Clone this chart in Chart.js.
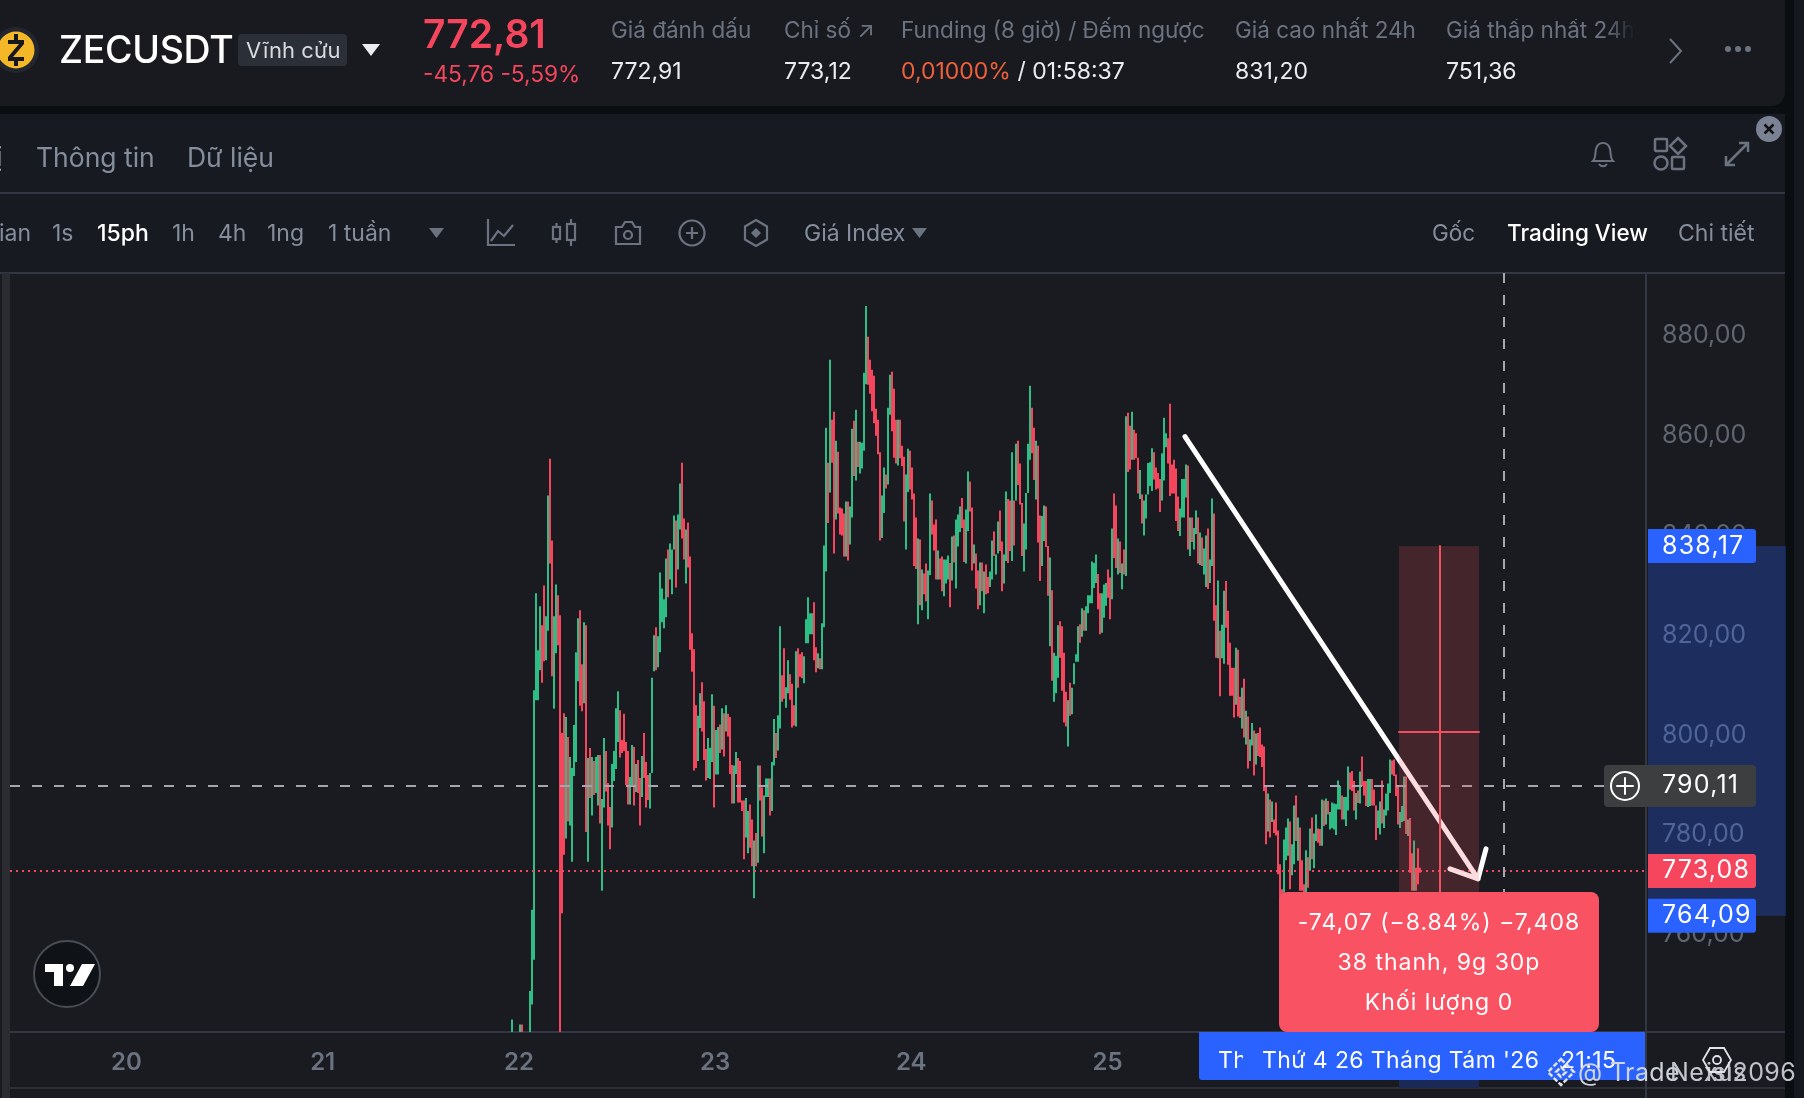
<!DOCTYPE html>
<html lang="vi">
<head>
<meta charset="utf-8">
<title>ZECUSDT</title>
<script src="https://cdn.jsdelivr.net/npm/chart.js@4"></script>
<style>
html, body { margin: 0; padding: 0; background: #0b0e11; }
#page { position: relative; width: 1804px; height: 1098px; overflow: hidden; font-family: Inter, "Noto Sans", sans-serif; }
#page div.box { position: absolute; }
canvas#chart { position: absolute; left: 0; top: 0; }
.t { position: absolute; transform: translateY(-50%); white-space: nowrap; font-size: 22.5px; color: #848e9c; line-height: 1; }
.v { color: #eaecef; font-size: 23px; }
.w { color: #fff; }
svg { position: absolute; overflow: visible; }
</style>
</head>
<body>
<div id="page">
  <div class="box" style="left:0;top:0;width:1785px;height:106px;background:#181a20;border-bottom-right-radius:14px"></div>
  <div class="box" style="left:0;top:114px;width:1785px;height:984px;background:#1a1b20"></div>
  <div class="box" style="left:0;top:114px;width:1785px;height:159px;background:#181a21"></div>
  <div class="box" style="left:0;top:192px;width:1785px;height:2px;background:#333743"></div>
  <div class="box" style="left:0;top:272px;width:1785px;height:2px;background:#333743"></div>
  <div class="box" style="left:1794px;top:0;width:10px;height:1098px;background:#15181e"></div>
  <div class="box" style="left:2px;top:273px;width:8px;height:825px;background:#2a2c32"></div>
  <div class="box" style="left:10px;top:1031px;width:1775px;height:2px;background:#333743"></div>
  <div class="box" style="left:10px;top:1087px;width:1775px;height:2px;background:#2c2f38"></div>
  <div class="box" style="left:1645px;top:273px;width:2px;height:825px;background:#333743"></div>
  <canvas id="chart" width="1804" height="1098"></canvas>

  <svg style="left:0;top:0" width="60" height="100">
    <circle cx="16" cy="50" r="23" fill="#23262e"/>
    <circle cx="16" cy="50" r="18.5" fill="#f4b728"/>
    <path d="M8 40h16v4l-11 13h11v4H8v-4l11-13H8z M14 34h4v6h-4z M14 60h4v6h-4z" fill="#16181e"/>
  </svg>
  <span class="t w" style="left:59px;top:50px;font-size:37.5px;font-weight:500;letter-spacing:-.3px">ZECUSDT</span>
  <div class="box" style="left:238px;top:34px;width:109px;height:32px;background:#2b2f38;border-radius:4px"></div>
  <span class="t" style="left:246px;top:50px;color:#d9dbdf;font-size:22px">Vĩnh cửu</span>
  <svg style="left:362px;top:44px" width="18" height="12"><path d="M0 0h18L9 12z" fill="#eaecef"/></svg>
  <span class="t" style="left:423px;top:33px;font-size:39px;font-weight:600;color:#f6465d">772,81</span>
  <span class="t" style="left:423px;top:74px;font-size:22.7px;color:#f6465d">-45,76 -5,59%</span>

  <span class="t" style="left:611px;top:30px;color:#6c7380">Giá đánh dấu</span>
  <span class="t v" style="left:611px;top:71px">772,91</span>
  <span class="t" style="left:784px;top:30px;color:#6c7380">Chỉ số ↗</span>
  <span class="t v" style="left:784px;top:71px">773,12</span>
  <span class="t" style="left:901px;top:30px;color:#6c7380">Funding (8 giờ) / Đếm ngược</span>
  <span class="t v" style="left:901px;top:71px"><span style="color:#f0603a">0,01000%</span> / 01:58:37</span>
  <span class="t" style="left:1235px;top:30px;color:#6c7380">Giá cao nhất 24h</span>
  <span class="t v" style="left:1235px;top:71px">831,20</span>
  <span class="t" style="left:1446px;top:30px;color:#6c7380;-webkit-mask-image:linear-gradient(90deg,#000 85%,transparent)">Giá thấp nhất 24h</span>
  <span class="t v" style="left:1446px;top:71px">751,36</span>
  <svg style="left:1669px;top:38px" width="14" height="26"><path d="M1 1l11 12L1 25" fill="none" stroke="#6c7380" stroke-width="2"/></svg>
  <svg style="left:1725px;top:45px" width="26" height="8"><circle cx="3" cy="4" r="3" fill="#6c7380"/><circle cx="13" cy="4" r="3" fill="#6c7380"/><circle cx="23" cy="4" r="3" fill="#6c7380"/></svg>

  <span class="t" style="left:-4px;top:157px;font-size:26px;color:#eaecef">ị</span>
  <span class="t" style="left:36px;top:157px;font-size:26.5px">Thông tin</span>
  <span class="t" style="left:187px;top:157px;font-size:26.5px">Dữ liệu</span>
  <svg style="left:1590px;top:140px" width="26" height="28" fill="none" stroke="#6c7380" stroke-width="2"><path d="M3 21c3-3 2-8 3-12 2-8 12-8 14 0 1 4 0 9 3 12z M9 24c2 3 6 3 8 0"/></svg>
  <svg style="left:1654px;top:137px" width="34" height="34" fill="none" stroke="#6c7380" stroke-width="2.5"><rect x="1" y="2" width="12" height="12" rx="1"/><path d="M24 1l8 8-8 8-8-8z"/><circle cx="7" cy="26" r="6.5"/><rect x="18" y="20" width="12" height="12" rx="1"/></svg>
  <svg style="left:1724px;top:141px" width="26" height="26" fill="none" stroke="#6c7380" stroke-width="2.5"><path d="M2 24L24 2 M15 2h9v9 M2 15v9h9"/></svg>
  <svg style="left:1755px;top:115px" width="28" height="28"><circle cx="14" cy="14" r="13" fill="#7a8294"/><path d="M9.500 9.500l9 9m0-9l-9 9" stroke="#111" stroke-width="2.500"/></svg>

  <span class="t" style="left:-1px;top:233px;font-size:23px">ian</span>
  <span class="t" style="left:52px;top:233px;font-size:23px">1s</span>
  <span class="t w" style="left:97px;top:233px;font-weight:500;font-size:23px">15ph</span>
  <span class="t" style="left:172px;top:233px;font-size:23px">1h</span>
  <span class="t" style="left:218px;top:233px;font-size:23px">4h</span>
  <span class="t" style="left:267px;top:233px;font-size:23px">1ng</span>
  <span class="t" style="left:328px;top:233px;font-size:23px">1 tuần</span>
  <svg style="left:429px;top:228px" width="15" height="10"><path d="M0 0h15L7.500 10z" fill="#6c7380"/></svg>
  <svg style="left:486px;top:219px" width="30" height="28" fill="none" stroke="#6c7380" stroke-width="2.200"><path d="M2 0v26h27 M5 22l7-10 6 5 9-11"/></svg>
  <svg style="left:551px;top:219px" width="26" height="28" fill="none" stroke="#6c7380" stroke-width="2.200"><rect x="2" y="8" width="7" height="12"/><path d="M5.500 4v4m0 12v4"/><rect x="16" y="5" width="8" height="16"/><path d="M20 0v5m0 16v6"/></svg>
  <svg style="left:614px;top:220px" width="28" height="26" fill="none" stroke="#6c7380" stroke-width="2.200"><path d="M2 7h6l3-5h7l3 5h5v17H2z"/><circle cx="14" cy="15" r="4"/></svg>
  <svg style="left:678px;top:219px" width="28" height="28" fill="none" stroke="#6c7380" stroke-width="2.200"><circle cx="14" cy="14" r="12.500"/><path d="M14 8v12M8 14h12"/></svg>
  <svg style="left:743px;top:219px" width="26" height="28"><path d="M13 1l11 6.500v13L13 27 2 20.500v-13z" fill="none" stroke="#6c7380" stroke-width="2.200"/><path d="M13 9l5 5-5 5-5-5z" fill="#6c7380"/></svg>
  <span class="t" style="left:804px;top:233px;font-size:23px">Giá Index</span>
  <svg style="left:912px;top:228px" width="15" height="10"><path d="M0 0h15L7.500 10z" fill="#6c7380"/></svg>
  <span class="t" style="left:1432px;top:233px">Gốc</span>
  <span class="t w" style="left:1507px;top:233px;font-weight:500">Trading View</span>
  <span class="t" style="left:1678px;top:233px;font-size:23px">Chi tiết</span>

  <svg style="left:33px;top:940px" width="68" height="68">
    <circle cx="34" cy="34" r="33" fill="#0f1216" stroke="#4a4d55" stroke-width="2"/>
    <path d="M12 24h18v22H21V32h-9z M37 46l12-22h13L50 46z" fill="#fff"/>
    <circle cx="37" cy="28" r="4" fill="#fff"/>
  </svg>

  <svg style="left:1546px;top:1058px" width="30" height="30" fill="none" stroke="#dfe3ea" stroke-width="2.500" stroke-dasharray="5 2"><path d="M15 1l13 13-13 13L2 14z M15 9l5 5-5 5-5-5z"/></svg>
  <span class="t" style="left:1578px;top:1072px;font-size:25px;color:#cfd3da;letter-spacing:.4px">@ Trade</span>
  <span class="t" style="left:1670px;top:1072px;font-size:25px;color:#c4c7ce;letter-spacing:.4px">Nexus</span>
  <span class="t" style="left:1706px;top:1072px;font-size:25px;color:#bfc2c9;letter-spacing:.4px">isl2096</span>
  <svg style="left:1702px;top:1047px" width="30" height="30" fill="none" stroke="#dfe3ea" stroke-width="1.800"><path d="M8 1h14l7 12-7 12H8L1 13z"/><circle cx="15" cy="13" r="4"/></svg>
</div>

<script>
// 15 minute candles, one slot per candle starting at firstSlot
const firstSlot = 251;
const highs = [
  743,738,738,738,742,742,738,738,738,748.7,
  765,809,828.4,817,825.8,822,830,823.8,848,855.4,
  839,823.8,830.2,828,824,800.4,804.4,803.6,799.6,795.6,
  793.4,802,816.6,823.4,825,814.2,822.6,822,795.4,797.4,
  795.6,794.8,795.6,796,796,787.2,799.4,796.8,790.4,785.6,
  794.2,796.8,805.4,808.8,805,799,804.3,798.6,796.8,791.6,
  798,797.6,794.2,795,791.4,795.8,800.4,794.6,792,792.4,
  811.5,820,821.6,819.8,832.6,829.4,827.2,835.4,837.2,838.4,
  837.2,844,843,844.2,850.4,854.6,843.4,841.2,842.6,835.8,
  820.4,817.2,806,803.9,808.4,810.6,806.8,797.2,799.4,797.4,
  808.2,805.9,801,801.6,802.1,805.4,804.4,806,804.3,803.6,
  794,793.9,796.6,795.4,794.8,786.9,786.9,787.4,784.8,786.1,
  783.1,778.9,780.4,793.9,793.9,789.5,787.9,791.3,791.3,791.3,
  794.6,803.2,800.4,804,821.8,812,817.4,809.6,815,812.2,
  810.3,806,816.8,817.4,816.2,816.6,815.8,823.2,827.6,824.4,
  824.4,826.6,817.6,816.4,
  815.4,822.4,838,861.6,854.6,875.2,863.2,864.8,859,856.8,
  845.6,845.4,844.4,846.8,846.8,845.8,861.4,863,865.2,858.8,
  858.8,858.6,872.6,886,879.8,875.2,873.2,872,865.4,863.2,
  856.7,848,853.6,852.2,865.6,872.2,872.8,869.4,863.2,863.2,
  863.2,858,855.8,852.2,857.4,857,853.6,848.4,843.6,839.4,
  839.2,833.2,832.4,834.4,833,848.4,847,842.2,843.2,837,
  835.4,835.8,835.2,835.2,836,834.5,839.8,840,843.2,844.2,
  845.8,847.5,843.2,845.2,852.8,850.8,845.6,838.2,836.4,833,
  834.6,834.6,832.8,834.2,831.7,832.8,839,840.8,836.2,842.8,
  845,838.8,836.2,848.8,847.3,847,856.7,847,858.4,859,
  854.4,846.5,842.4,848.5,858.4,870,865.6,861.6,859,858,
  844,843.9,846,845.8,837.9,835.6,829,816.5,815.9,822,
  822.8,821.8,816.5,808.7,807,810.5,809.5,814.4,816.2,821.8,
  822.2,825.4,825,825.8,828,828,834.8,834.5,836.2,832.3,
  828.4,828.4,830.2,830.5,833.2,831.6,841.4,848.4,846,839.4,
  838.8,834.4,837.2,863.9,864.6,862,864.8,861.2,860.5,855.6,
  853.1,848.2,847,848.2,854.5,854.7,857.5,856.7,853.6,852.5,
  851.3,856.5,863.6,860.5,859.5,866.4,854.2,855.2,853.4,847.8,
  845.4,851.3,851.3,854.2,854,843.6,843.6,841.5,845,843.6,
  840.6,839.6,837.4,840,841.4,835.2,847.4,844.4,826,831,
  820.9,822.1,828.9,830.9,824.9,818.5,813.5,813.5,817.5,817.1,
  807.7,809.5,811.3,804.9,803.7,799.1,802.4,800.9,800.3,800.4,
  801.5,798.1,797.7,789.6,788.3,787.1,786.7,783.1,786.5,780.9,
  774.1,769.1,779.1,781.5,783.3,782.7,778.1,785.9,787.9,783.5,
  781.5,774.9,770.1,776.9,775.5,781.3,783.5,780.3,784.1,781.3,
  781.2,787.1,786.9,787.3,786.8,784.6,786.5,786.3,786.2,790.9,
  789.8,787.9,787.6,787.6,793.7,792.5,792.8,790.8,788.4,788.9,
  792.7,795.7,790.8,790.8,791.2,791.2,791.2,789.1,785.9,784.9,
  786.7,790.9,785.1,788.3,790.3,795.1,794.9,795.1,792.1,789.8,
  784.6,785.8,791.7,791.7,783.1,783.4,776.3,778.9,773.4,777.3,
  773.4
];
const lows = [
  735,730,730,730,735,735,730,730,730,735,
  746,755,807,807,813,810.5,814.8,815,820.9,834.4,
  811.8,805.3,816.4,818,735,764.3,776,779.3,782.7,781.9,
  774.6,791.8,794.6,810.8,805.9,804.8,806.4,780.6,774.6,787.4,
  783.9,788,788.4,785.9,782.3,768.8,785.5,788.7,781.9,777.1,
  781.5,790.8,793.2,798.6,795.5,796.4,796.8,790,786.1,786.1,
  790,785.9,788.6,788.4,781.9,787.6,791.4,785.5,787,785.3,
  792.4,812.8,813,813.6,816.6,822.6,821.4,823.6,827.6,831.2,
  828.2,837.2,829.6,833.2,841.2,839.4,835.2,830.4,833.6,817.1,
  812.7,792.9,793.4,794.8,801.4,800.7,795,790.9,791.4,791.2,
  794.6,785.5,792.1,792.1,796.4,797.1,795.7,800.7,799.7,792.2,
  786.3,786.3,792.2,786.5,786.5,784.8,775.1,779.5,776.3,777.4,
  773.7,767.3,773.7,774.4,786.9,779.7,776.3,787.6,787.6,783.9,
  784.8,793.9,795.4,796.9,801.3,806.7,807.3,805.5,808.4,807.1,
  801.5,801.9,801.7,809.5,811.7,811.4,810.4,818.4,818.4,820.2,
  820.2,815,812.6,813.4,
  813.2,813.2,821.6,832.8,842.5,848.6,854.6,836.4,843.2,844.4,
  840.2,840,835.8,835.8,835,838.2,843.6,851.9,851,853.7,
  852.4,853.4,857,870.3,870.2,868.4,864.9,862.5,860,856.3,
  839,839.5,844.5,849.4,850.2,864.2,860.9,855.6,854.4,854,
  855.5,853.9,842.8,837.2,848.7,849.2,847.2,833.9,833.3,822.2,
  826,825,828.2,826.8,823.2,832.1,840.2,837,831.2,831.2,
  831.2,828.8,827.8,830.4,831.2,825.6,831,834.6,829.4,837.8,
  840.7,841.5,834.7,834.4,840.9,844.8,833,834.4,829.4,825.2,
  826,828.8,824.4,828.2,828.4,829.7,831.2,835.9,832.2,836.4,
  836.9,828.8,830.4,834.9,834.5,836.9,834.9,838,847,850.1,
  846.2,835.9,832.8,837.2,848.5,855.2,856.5,851.1,847.2,838.6,
  830.9,833.9,838.9,837.7,827.9,817.8,810.9,806.7,808.4,811.5,
  815.5,808.9,802.5,801.7,797.7,803.9,804.2,810.2,814.7,814.7,
  818.5,819.7,820.9,820.9,824.4,826.4,826.4,829.5,830.5,825.2,
  820.2,820.5,823.5,825.9,827.5,823.2,827.2,835.5,833.5,832.2,
  832.5,829.2,832.2,831.9,852.7,853.2,855.2,855.2,855.5,848.4,
  847.3,842.4,840,843.4,848.2,849.9,848.9,851.2,849.2,849.4,
  844.7,847,851,857.7,854.4,847.9,848.4,848.4,842.9,840.9,
  839.9,843.6,843.6,847.6,837.2,835.9,838.7,837.2,840.3,834.4,
  834.1,833.9,832.2,829.7,829.3,830.5,833.9,822.9,815.5,815.4,
  807.8,815.4,814.3,821.5,814.1,807.9,807.9,803.5,806.1,803.7,
  803.4,801.3,799.5,798.1,793.3,794.8,797.9,791.9,794.1,795.8,
  795.6,793.6,788.8,778.1,780.7,779.5,782.6,780.4,779.9,772.1,
  765,765,768.4,774.9,775.8,769.1,771.9,774.1,778.8,774.8,
  768.8,768.8,765,765,769.4,772.8,775.1,773.3,778.8,778.4,
  777.8,777.8,781.8,782.1,784.1,781.1,781.4,781.1,780,785.1,
  785.1,783.1,783.1,781.8,784.9,789.1,788.8,784.9,783.1,786.4,
  786.3,789.8,787.9,785.8,785.6,785.8,785.9,785.9,779,781.4,
  780.1,782.3,781.4,783.9,784.9,788.4,792.1,791.8,787.8,782.1,
  781.4,782.6,782.8,780.2,779.8,772.4,768.8,768.8,768.8,770.1,
  772.4
];
// g = close above open, r = close below open
const sides = [
  'gggrgrgrgg','gggggrrggr','rggrrrrgrg','ggggrrgrgr','grggrggrrr',
  'ggggrrrrrg','grgrrgrrrg','ggrgggggrg','ggrggrrgrr','rrrggrrrgg',
  'grggrgrgrr','rggrrrrggr','rgrgrrgggr','ggrggrrggr','rrgrrrgggg',
  'grrg',
  'rgggrgrrgr','rrrgrggrgr','ggggrrrrrr','rggrggrrrg','rrrggrrrrg',
  'rgrrggrrrg','rrgggrgrgg','grrggrrgrr','grgrrggrgg','rrggrrgrgr',
  'rrggggrrgr','rggrrgrggg','rrrrgrgggg','rgrggggggr','rgggrrgrrg',
  'rgrgrrgrrr','grgggggrrr','rgggrrrrrr','ggggrgrggr','grggrggrrg',
  'rggrrrrrgr','rgrgrggrgr','rrrrgrgrrr','rrgggrggrg','rrrgrgrggr',
  'rgrgrggggg','grgggrrrgr','grrrggrrrg','grggggrrrr','gggrgrrgrr',
  'r'
].join('');

const dayTicks = [58.25, 156.35, 254.45, 352.55, 450.65, 548.75];
const dayLabels = ['20', '21', '22', '23', '24', '25'];
const priceTicks = [880, 860, 840, 820, 800, 780, 760];

// chart annotations, in slots and prices
const rangeTop = 838.17, rangeBottom = 764.09, rangeMid = 800.9;
const rangeLeftSlot = 694.5, rangeRightSlot = 734.5, rangeMidSlot = 715;
const crossPrice = 790.11, crossSlot = 747, lastPrice = 773.08;
const arrowFrom = [587.5, 860.1], arrowTo = [734, 771.5];
const arrowWingA = [738, 777.5], arrowWingB = [720, 773.5];
const rangeLines = ['-74,07 (−8.84%) −7,408', '38 thanh, 9g 30p', 'Khối lượng 0'];
const timeClipped = 'Th';
const timeDate = "Thứ 4 26 Tháng Tám '26";
const timeClock = '21:15';

const GREEN = '#2ebd85', RED = '#f6465d', BLUE = '#2962ff', NAVY = '#1a2a55';
const points = highs.map((h, i) => ({ x: firstSlot + i, y: [lows[i], h] }));
const colors = highs.map((h, i) => sides[i] === 'g' ? GREEN : RED);
const money = v => v.toFixed(2).replace('.', ',');

function tag(ctx, text, y, color, left, right) {
    const top = y - 17, h = 34;
    ctx.fillStyle = color;
    ctx.beginPath();
    ctx.roundRect(left, top, right - left, h, [0, 3, 3, 0]);
    ctx.fill();
    ctx.fillStyle = '#fff';
    ctx.font = '25px Inter';
    ctx.letterSpacing = '1.2px';
    ctx.textAlign = 'left';
    ctx.textBaseline = 'middle';
    ctx.fillText(text, 1662, y);
    ctx.letterSpacing = '0px';
}

const overlays = {
    id: 'overlays',
    afterDatasetsDraw(chart) {
        const { ctx, scales: { x, y }, chartArea: area } = chart;
        // the drawn levels sit a touch lower than the candles in the screenshot
        const py = v => y.getPixelForValue(v) + 1.5;
        ctx.save();

        // last price, dotted
        ctx.strokeStyle = RED;
        ctx.lineWidth = 2;
        ctx.setLineDash([2, 4]);
        ctx.beginPath();
        ctx.moveTo(area.left, Math.round(py(lastPrice)));
        ctx.lineTo(area.right, Math.round(py(lastPrice)));
        ctx.stroke();

        // crosshair
        ctx.strokeStyle = '#a3a6af';
        ctx.setLineDash([10, 12]);
        ctx.beginPath();
        ctx.moveTo(area.left, Math.round(py(crossPrice)));
        ctx.lineTo(1604, Math.round(py(crossPrice)));
        ctx.moveTo(Math.round(x.getPixelForValue(crossSlot)), area.top);
        ctx.lineTo(Math.round(x.getPixelForValue(crossSlot)), area.bottom);
        ctx.stroke();
        ctx.setLineDash([]);

        // hand drawn arrow
        ctx.strokeStyle = '#fff';
        ctx.lineWidth = 5;
        ctx.lineCap = 'round';
        ctx.lineJoin = 'round';
        ctx.beginPath();
        ctx.moveTo(x.getPixelForValue(arrowFrom[0]), py(arrowFrom[1]));
        ctx.lineTo(x.getPixelForValue(arrowTo[0]), py(arrowTo[1]));
        ctx.moveTo(x.getPixelForValue(arrowWingA[0]), py(arrowWingA[1]));
        ctx.lineTo(x.getPixelForValue(arrowTo[0]), py(arrowTo[1]));
        ctx.lineTo(x.getPixelForValue(arrowWingB[0]), py(arrowWingB[1]));
        ctx.stroke();

        // measure zone
        const zl = x.getPixelForValue(rangeLeftSlot), zr = x.getPixelForValue(rangeRightSlot);
        const zt = py(rangeTop), zb = py(rangeBottom);
        ctx.fillStyle = 'rgba(242,80,90,0.2)';
        ctx.fillRect(zl, zt, zr - zl, zb - zt);
        ctx.strokeStyle = '#f0505f';
        ctx.lineWidth = 2;
        ctx.beginPath();
        ctx.moveTo(Math.round(x.getPixelForValue(rangeMidSlot)), zt);
        ctx.lineTo(Math.round(x.getPixelForValue(rangeMidSlot)), zb);
        ctx.moveTo(zl, Math.round(py(rangeMid)));
        ctx.lineTo(zr, Math.round(py(rangeMid)));
        ctx.stroke();

        // range highlight on the price axis, translucent so the ticks still show
        ctx.fillStyle = 'rgba(41,98,255,0.28)';
        ctx.fillRect(area.right + 2, zt, 138, zb - zt);

        // result box
        ctx.fillStyle = '#f95263';
        ctx.beginPath();
        ctx.roundRect(1279, 892, 320, 140, 8);
        ctx.fill();
        ctx.fillStyle = '#fff';
        ctx.font = '23px Inter';
        ctx.letterSpacing = '1px';
        ctx.textAlign = 'center';
        ctx.textBaseline = 'middle';
        rangeLines.forEach((line, i) => ctx.fillText(line, 1439, 923 + i * 40));
        ctx.letterSpacing = '0px';

        // time axis highlight and label
        ctx.fillStyle = NAVY;
        ctx.fillRect(zl, area.bottom, zr - zl, 56);
        ctx.fillStyle = BLUE;
        ctx.beginPath();
        ctx.roundRect(1199, area.bottom, 446, 48, [0, 0, 3, 3]);
        ctx.fill();
        ctx.fillStyle = '#fff';
        ctx.font = '23px Inter';
        ctx.letterSpacing = '0.4px';
        ctx.textAlign = 'left';
        ctx.save();
        ctx.beginPath();
        ctx.rect(1199, area.bottom, 44, 48);
        ctx.clip();
        ctx.fillText(timeClipped, 1218, 1061);
        ctx.restore();
        ctx.fillText(timeDate, 1262, 1061);
        ctx.fillText(timeClock, 1561, 1061);
        ctx.letterSpacing = '0px';

        // price tags
        tag(ctx, money(rangeTop), py(rangeTop), BLUE, area.right + 2, 1756);
        tag(ctx, money(lastPrice), py(lastPrice), RED, area.right + 2, 1756);
        tag(ctx, money(rangeBottom), py(rangeBottom), BLUE, area.right + 2, 1756);

        const cy = py(crossPrice);
        ctx.fillStyle = '#3d3e40';
        ctx.beginPath();
        ctx.roundRect(1604, cy - 21, 152, 42, 4);
        ctx.fill();
        ctx.fillStyle = '#fff';
        ctx.font = '25px Inter';
        ctx.letterSpacing = '1.2px';
        ctx.textAlign = 'left';
        ctx.fillText(money(crossPrice), 1662, cy);
        ctx.letterSpacing = '0px';
        ctx.strokeStyle = '#fff';
        ctx.lineWidth = 2;
        ctx.beginPath();
        ctx.arc(1625, cy, 14, 0, Math.PI * 2);
        ctx.moveTo(1617, cy);
        ctx.lineTo(1633, cy);
        ctx.moveTo(1625, cy - 8);
        ctx.lineTo(1625, cy + 8);
        ctx.stroke();

        ctx.restore();
    }
};

new Chart(document.getElementById('chart').getContext('2d'), {
    type: 'bar',
    data: {
        datasets: [{
            data: points,
            backgroundColor: colors,
            borderWidth: 0,
            barThickness: 2,
            inflateAmount: 0
        }]
    },
    options: {
        responsive: false,
        animation: false,
        devicePixelRatio: 1,
        layout: { padding: { left: 10, right: 18, top: 273, bottom: 0 } },
        plugins: { legend: { display: false }, tooltip: { enabled: false } },
        scales: {
            x: {
                type: 'linear',
                offset: false,
                min: 0,
                max: 818,
                afterBuildTicks: scale => { scale.ticks = dayTicks.map(value => ({ value })); },
                afterFit: scale => { scale.height = 66; },
                grid: { display: false },
                border: { display: false },
                ticks: {
                    autoSkip: false,
                    maxRotation: 0,
                    color: '#6b7280',
                    padding: 8,
                    font: { family: 'Inter', size: 24, weight: '600' },
                    callback: value => dayLabels[dayTicks.indexOf(value)]
                }
            },
            y: {
                position: 'right',
                min: 740.5,
                max: 892.6,
                afterBuildTicks: scale => { scale.ticks = priceTicks.map(value => ({ value })); },
                afterFit: scale => { scale.width = 140; },
                grid: { display: false },
                border: { display: false },
                ticks: {
                    color: '#5f6672',
                    padding: 8,
                    font: { family: 'Inter', size: 25 },
                    callback: value => money(value)
                }
            }
        }
    },
    plugins: [overlays]
});
</script>
</body>
</html>
